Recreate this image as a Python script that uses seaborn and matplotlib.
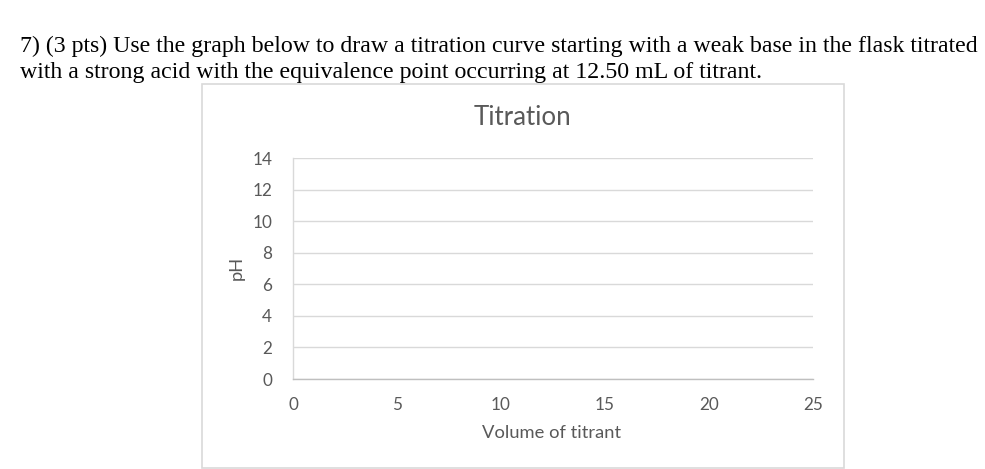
import matplotlib
import matplotlib.pyplot as plt
import seaborn as sns
from matplotlib.patches import Rectangle

matplotlib.use("Agg")

# ---------------------------------------------------------------------------
# Data (empty chart: only axis scales and labels)
# ---------------------------------------------------------------------------
QUESTION_LINES = [
    "7) (3 pts) Use the graph below to draw a titration curve starting with a weak base in the flask titrated",
    "with a strong acid with the equivalence point occurring at 12.50 mL of titrant.",
]
TITLE = "Titration"
X_LABEL = "Volume of titrant"
Y_LABEL = "pH"
X_TICKS = [0, 5, 10, 15, 20, 25]
Y_TICKS = [0, 2, 4, 6, 8, 10, 12, 14]

TEXT_GRAY = "#595959"
GRID_GRAY = "#D9D9D9"
AXIS_GRAY = "#BFBFBF"
SANS = ["Lato", "DejaVu Sans"]

sns.set_theme(style="white")
plt.rcParams["font.family"] = SANS

W, H = 985, 469
fig = plt.figure(figsize=(W / 100, H / 100), dpi=100)

# chart frame
fig.add_artist(Rectangle((202 / W, 1 - 468 / H), (844 - 202) / W, (468 - 84) / H,
                         transform=fig.transFigure, fill=False,
                         edgecolor=GRID_GRAY, linewidth=1.2))

# question text
for i, line in enumerate(QUESTION_LINES):
    fig.text(20 / W, 1 - (52 + 26 * i) / H, line, ha="left", va="baseline",
             family=["Liberation Serif"], fontsize=17.2, color="black")

ax = fig.add_axes([293 / W, 1 - 379 / H, (813 - 293) / W, (379 - 158) / H])
ax.set_xlim(X_TICKS[0], X_TICKS[-1])
ax.set_ylim(Y_TICKS[0], Y_TICKS[-1])
ax.set_xticks(X_TICKS)
ax.set_yticks(Y_TICKS)
ax.set_xticklabels([str(v) for v in X_TICKS])
ax.set_yticklabels([str(v) for v in Y_TICKS])
ax.yaxis.grid(True, color=GRID_GRAY, linewidth=1.0)
ax.xaxis.grid(False)
ax.tick_params(axis="both", length=0, labelsize=12.3, labelcolor=TEXT_GRAY)
ax.tick_params(axis="y", pad=15)
ax.tick_params(axis="x", pad=13)
sns.despine(ax=ax, top=True, right=True)
ax.spines["left"].set_color(GRID_GRAY)
ax.spines["bottom"].set_color(AXIS_GRAY)
for s in ("left", "bottom"):
    ax.spines[s].set_linewidth(1.0)

fig.text(522 / W, 1 - 125 / H, TITLE, ha="center", va="baseline",
         fontsize=18.6, color=TEXT_GRAY)
fig.text(552 / W, 1 - 438 / H, X_LABEL, ha="center", va="baseline",
         fontsize=13.2, color=TEXT_GRAY)
fig.text(237 / W, 1 - 268 / H, Y_LABEL, ha="center", va="center",
         rotation=90, fontsize=13.2, color=TEXT_GRAY)

fig.savefig("out.png", dpi=100, facecolor="white")
